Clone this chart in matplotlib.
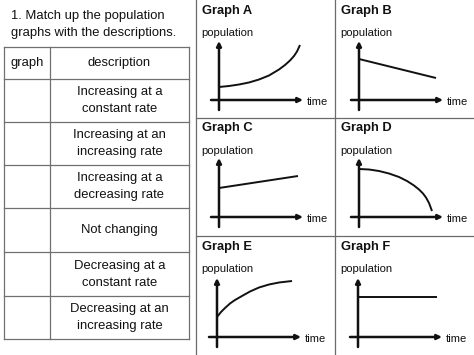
import matplotlib
matplotlib.use("Agg")
import matplotlib.pyplot as plt

plt.rcParams['font.family'] = ['Liberation Sans', 'DejaVu Sans']

# ---------------- data ----------------
intro_lines = ["1. Match up the population", "graphs with the descriptions."]
table_headers = ["graph", "description"]
descriptions = [
    ["Increasing at a", "constant rate"],
    ["Increasing at an", "increasing rate"],
    ["Increasing at a", "decreasing rate"],
    ["Not changing"],
    ["Decreasing at a", "constant rate"],
    ["Decreasing at an", "increasing rate"],
]
panel_titles = ["Graph A", "Graph B", "Graph C", "Graph D", "Graph E", "Graph F"]
y_label = "population"
x_label = "time"

# sketch curves (time, population)
time_A = [0, 10, 20, 30, 40, 50, 60, 66, 71, 75, 78, 81]
pop_A = [13, 14, 15.5, 17.5, 20.5, 24.5, 30.5, 35, 39.5, 44, 48.5, 55]
time_B = [0, 77]
pop_B = [41, 22]
time_C = [0, 79]
pop_C = [29, 41]
time_D = [0, 10, 20, 30, 40, 48, 55, 60, 64, 67, 70, 73]
pop_D = [48, 47.5, 46, 43.5, 40, 36, 31.5, 27.5, 23.5, 19.5, 14, 6]
time_E = [0, 4, 8, 13, 18, 25, 33, 42, 52, 62, 75]
pop_E = [20, 25, 29, 33.5, 37, 41, 45.5, 49.5, 52.5, 54.5, 56]
time_F = [0, 79]
pop_F = [40, 40]
curves = [(time_A, pop_A), (time_B, pop_B), (time_C, pop_C),
          (time_D, pop_D), (time_E, pop_E), (time_F, pop_F)]

# ---------------- layout ----------------
W, H = 474, 355
fig = plt.figure(figsize=(W / 100, H / 100), dpi=100)
bg = fig.add_axes([0, 0, 1, 1])
bg.set_xlim(0, W)
bg.set_ylim(H, 0)
bg.axis('off')

grid_col = '#6a6a6a'
# panel separators
bg.plot([196, 196], [0, H], color=grid_col, lw=0.9)
bg.plot([335, 335], [0, H], color=grid_col, lw=0.9)
for yy in (117.5, 236):
    bg.plot([196, 473], [yy, yy], color=grid_col, lw=0.9)

# intro text
bg.text(11, 16, intro_lines[0], fontsize=9.4, va='center', ha='left', color='#111111')
bg.text(11, 33, intro_lines[1], fontsize=9.4, va='center', ha='left', color='#111111')

# table
tab_left, tab_mid, tab_right = 4, 50, 189
row_edges = [47, 79, 122, 165, 208, 252, 296, 339]
tab_col = '#707070'
for yy in row_edges:
    bg.plot([tab_left, tab_right], [yy, yy], color=tab_col, lw=0.9)
for xx in (tab_left, tab_mid, tab_right):
    bg.plot([xx, xx], [row_edges[0], row_edges[-1]], color=tab_col, lw=0.9)

hy = (row_edges[0] + row_edges[1]) / 2
bg.text((tab_left + tab_mid) / 2, hy, table_headers[0], fontsize=9.4,
        ha='center', va='center', color='#111111')
bg.text((tab_mid + tab_right) / 2, hy, table_headers[1], fontsize=9.4,
        ha='center', va='center', color='#111111')
for i, lines in enumerate(descriptions):
    cy = (row_edges[i + 1] + row_edges[i + 2]) / 2
    n = len(lines)
    for j, line in enumerate(lines):
        yy = cy + (j - (n - 1) / 2) * 17
        bg.text((tab_mid + tab_right) / 2, yy, line, fontsize=9.4,
                ha='center', va='center', color='#111111')

# panels: (cell left, cell top, origin x, origin y)
panels = [
    (196, 0, 219, 100),
    (335, 0, 359, 100),
    (196, 117.5, 219, 217),
    (335, 117.5, 359, 217),
    (196, 236, 217, 337),
    (335, 236, 358, 337),
]

for k, (cl, ct, ox, oy) in enumerate(panels):
    bg.text(cl + 6, ct + 11, panel_titles[k], fontsize=9.3, fontweight='bold',
            ha='left', va='center', color='#111111')
    bg.text(cl + 5, ct + 33, y_label, fontsize=8.1, ha='left', va='center',
            color='#111111')
    x0, x1, y0, y1 = -12, 100, -12, 70
    ax = fig.add_axes([(ox + x0) / W, (H - (oy - y0)) / H,
                       (x1 - x0) / W, (y1 - y0) / H])
    ax.set_xlim(x0, x1)
    ax.set_ylim(y0, y1)
    ax.axis('off')
    ax.patch.set_alpha(0)
    # axes with arrows
    ax.annotate('', xy=(84, 0), xytext=(-8, 0),
                arrowprops=dict(arrowstyle='-|>', lw=1.8, color='#111111',
                                mutation_scale=7, shrinkA=0, shrinkB=0))
    ax.annotate('', xy=(0, 59), xytext=(0, -10),
                arrowprops=dict(arrowstyle='-|>', lw=1.8, color='#111111',
                                mutation_scale=7, shrinkA=0, shrinkB=0))
    ax.text(88, -2, x_label, fontsize=8.1, ha='left', va='center', color='#111111')
    t, p = curves[k]
    ax.plot(t, p, color='#111111', lw=1.4, solid_capstyle='butt',
            solid_joinstyle='round')

fig.savefig('out.png', dpi=100)
